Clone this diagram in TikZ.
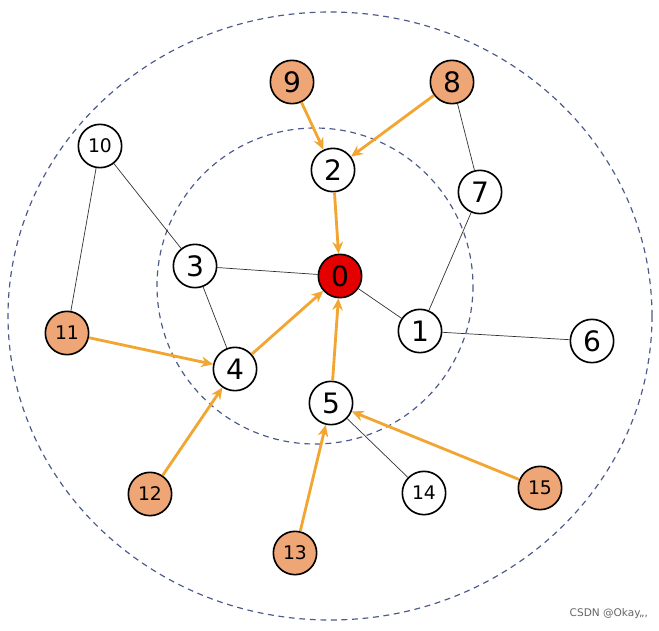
\documentclass[tikz,border=0pt]{standalone}
\usepackage{fontspec}
\setmainfont{DejaVu Sans}
\usetikzlibrary{arrows.meta}
\definecolor{salmon}{HTML}{EFA677}
\definecolor{amber}{HTML}{F2A531}
\definecolor{ringc}{HTML}{4A5A8A}
\begin{document}
\begin{tikzpicture}[x=0.03cm,y=-0.03cm,
 nd/.style={circle,draw=black,line width=1.4pt,fill=white,minimum size=1.3cm,inner sep=0pt,font=\fontsize{24}{24}\selectfont},
 ndsmall/.style={nd,font=\fontsize{16}{16}\selectfont},
 org/.style={fill=salmon},
 thin/.style={draw=black!80,line width=0.6pt},
 arr/.style={draw=amber,line width=2.4pt,-{Stealth[length=10pt,width=9pt]}},
 ring/.style={draw=ringc,line width=1pt,dash pattern=on 5pt off 4pt}]
\useasboundingbox (0,0) rectangle (659,630);
\fill[white] (0,0) rectangle (659,630);
\draw[ring] (330,316) ellipse [x radius=322,y radius=304];
\draw[ring] (315,286) circle [radius=158];
\node[nd,fill=red!90!black] (n0) at (340,276) {0};
\node[nd] (n2) at (333,170) {2};
\node[nd,org] (n9) at (292,82) {9};
\node[nd,org] (n8) at (452,82) {8};
\node[nd] (n7) at (480,192) {7};
\node[ndsmall] (n10) at (100,146) {10};
\node[nd] (n3) at (195,266) {3};
\node[nd] (n1) at (420,331) {1};
\node[nd] (n6) at (592,341) {6};
\node[ndsmall,org] (n11) at (67,333) {11};
\node[nd] (n4) at (235,369) {4};
\node[nd] (n5) at (331,403) {5};
\node[ndsmall] (n14) at (424,493) {14};
\node[ndsmall,org] (n15) at (540,488) {15};
\node[ndsmall,org] (n12) at (150,494) {12};
\node[ndsmall,org] (n13) at (295,553) {13};
\draw[thin] (n10)--(n3) (n10)--(n11) (n3)--(n0) (n3)--(n4) (n0)--(n1) (n1)--(n7) (n7)--(n8) (n1)--(n6) (n5)--(n14);
\draw[arr] (n9)--(n2);
\draw[arr] (n8)--(n2);
\draw[arr] (n2)--(n0);
\draw[arr] (n4)--(n0);
\draw[arr] (n5)--(n0);
\draw[arr] (n11)--(n4);
\draw[arr] (n12)--(n4);
\draw[arr] (n13)--(n5);
\draw[arr] (n15)--(n5);
\node[anchor=east,text=black!60,font=\fontsize{9}{9}\selectfont] (wm) at (652,614) {CSDN @Okay,,,};
\end{tikzpicture}
\end{document}
